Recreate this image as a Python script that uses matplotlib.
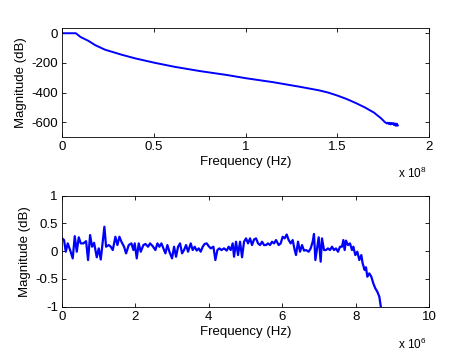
import matplotlib
matplotlib.use("Agg")
import matplotlib.pyplot as plt
import numpy as np

plt.rcParams['font.family'] = ['Liberation Sans', 'DejaVu Sans']
plt.rcParams['mathtext.default'] = 'regular'

# full-band response (frequency in units of 1e8 Hz, magnitude in dB)
wide_f = [0.0, 0.04, 0.075, 0.085, 0.10, 0.143, 0.18, 0.234, 0.325, 0.40, 0.507,
          0.616, 0.75, 0.90, 1.0, 1.15, 1.30, 1.40, 1.45, 1.50, 1.55, 1.60,
          1.65, 1.70, 1.74, 1.76, 1.77, 1.775, 1.78, 1.785, 1.79, 1.795, 1.80,
          1.805, 1.81, 1.815, 1.82, 1.825, 1.83]
wide_db = [0, 0, 0, -10, -25, -51, -80, -111, -145, -170, -200,
           -227, -255, -282, -303, -330, -362, -385, -400, -420, -443, -470,
           -500, -535, -575, -600, -608, -603, -612, -604, -615, -605, -613,
           -606, -620, -608, -625, -610, -622]

# passband detail (frequency in units of 1e6 Hz, magnitude in dB)
pass_f = [0.00, 0.054, 0.10, 0.154, 0.218, 0.29, 0.345, 0.40, 0.454, 0.509,
          0.58, 0.654, 0.708, 0.763, 0.817, 0.872, 0.945, 0.999, 1.054, 1.153,
          1.199, 1.272, 1.326, 1.381, 1.453, 1.508, 1.562, 1.617, 1.689, 1.744,
          1.817, 1.889, 1.944, 1.98, 2.035, 2.089, 2.144, 2.216, 2.271, 2.343,
          2.398, 2.47, 2.543, 2.598, 2.652, 2.707, 2.761, 2.816, 2.87, 2.925,
          2.997, 3.052, 3.106, 3.161, 3.215, 3.27, 3.324, 3.379, 3.433, 3.506,
          3.56, 3.615, 3.669, 3.724, 3.778, 3.833, 3.887, 3.942, 3.996, 4.051,
          4.124, 4.178, 4.233, 4.287, 4.342, 4.414, 4.487, 4.541, 4.596, 4.65,
          4.687, 4.741, 4.796, 4.85, 4.905, 4.959, 5.014, 5.068, 5.123, 5.177,
          5.232, 5.286, 5.341, 5.395, 5.45, 5.504, 5.559, 5.613, 5.668, 5.722,
          5.777, 5.831, 5.904, 5.958, 6.013, 6.067, 6.122, 6.176, 6.231, 6.285,
          6.34, 6.376, 6.431, 6.485, 6.54, 6.594, 6.649, 6.721, 6.776, 6.83,
          6.866, 6.903, 6.957, 6.994, 7.048, 7.084, 7.139, 7.193, 7.248, 7.302,
          7.357, 7.411, 7.466, 7.52, 7.575, 7.629, 7.666, 7.702, 7.738, 7.793,
          7.847, 7.902, 7.938, 7.993, 8.047, 8.102, 8.156, 8.192, 8.247, 8.283,
          8.32, 8.374, 8.429, 8.483, 8.538, 8.592, 8.647, 8.692]
pass_db = [0.23, 0.20, -0.01, 0.14, 0.02, -0.13, 0.27, -0.01, 0.25, 0.14,
           0.14, 0.18, -0.16, 0.29, 0.08, 0.15, -0.11, 0.05, -0.15, 0.44,
           0.08, 0.11, 0.08, 0.02, 0.26, 0.11, 0.26, 0.17, 0.08, -0.04,
           0.11, 0.14, 0.02, 0.14, -0.13, 0.14, -0.01, 0.11, 0.13, 0.08,
           0.14, 0.09, 0.02, 0.14, 0.08, 0.14, 0.05, -0.04, 0.11, -0.01,
           -0.13, 0.08, -0.10, 0.08, 0.14, -0.04, 0.02, 0.11, -0.01, 0.14,
           0.02, 0.08, 0.01, 0.05, -0.01, 0.08, 0.13, 0.14, 0.09, 0.05,
           0.08, -0.16, 0.02, 0.05, 0.02, 0.05, 0.01, 0.08, 0.02, 0.14,
           -0.10, 0.17, -0.07, 0.17, -0.11, 0.17, 0.23, 0.14, 0.23, 0.11,
           0.21, 0.23, 0.14, 0.11, 0.17, 0.11, 0.11, 0.14, 0.11, 0.17,
           0.14, 0.20, 0.11, 0.14, 0.26, 0.23, 0.30, 0.20, 0.14, 0.20,
           0.02, -0.07, 0.17, -0.01, 0.11, 0.01, 0.02, -0.01, 0.05, 0.17,
           0.31, -0.16, 0.08, 0.25, -0.19, 0.23, 0.02, 0.02, 0.05, 0.02,
           0.08, 0.02, 0.05, -0.01, 0.08, 0.08, 0.20, 0.02, 0.19, 0.11,
           0.14, 0.02, 0.08, -0.07, -0.01, -0.16, -0.07, -0.22, -0.34, -0.29,
           -0.46, -0.40, -0.46, -0.58, -0.67, -0.73, -0.82, -1.02]

top_ticks = [0, 0.5, 1, 1.5, 2]
top_labels = ['0', '0.5', '1', '1.5', '2']
top_yticks = [0, -200, -400, -600]
bot_ticks = [0, 2, 4, 6, 8, 10]
bot_yticks = [-1, -0.5, 0, 0.5, 1]

fig = plt.figure(figsize=(4.74, 3.55), dpi=100)
ax1 = fig.add_axes([0.131, 0.614, 0.774, 0.307])
ax2 = fig.add_axes([0.131, 0.136, 0.774, 0.313])

fs = 9.5
blue = (0, 0, 1)

ax1.plot(np.array(wide_f) * 1e8, wide_db, color=blue, lw=1.4)
ax1.set_xlim(0, 2e8)
ax1.set_ylim(-700, 35)
ax1.set_xticks(np.array(top_ticks) * 1e8)
ax1.set_xticklabels(top_labels)
ax1.set_yticks(top_yticks)
ax1.set_yticklabels([str(v) for v in top_yticks])
ax1.set_xlabel('Frequency (Hz)', fontsize=fs, labelpad=2)
ax1.set_ylabel('Magnitude (dB)', fontsize=fs, labelpad=3)
fig.text(0.84, 0.498, 'x 10$^{8}$', fontsize=fs - 1)

ax2.plot(np.array(pass_f) * 1e6, pass_db, color=blue, lw=1.6)
ax2.set_xlim(0, 1e7)
ax2.set_ylim(-1, 1)
ax2.set_xticks(np.array(bot_ticks) * 1e6)
ax2.set_xticklabels([str(v) for v in bot_ticks])
ax2.set_yticks(bot_yticks)
ax2.set_yticklabels(['-1', '-0.5', '0', '0.5', '1'])
ax2.set_xlabel('Frequency (Hz)', fontsize=fs, labelpad=2)
ax2.set_ylabel('Magnitude (dB)', fontsize=fs, labelpad=3)
fig.text(0.84, 0.018, 'x 10$^{6}$', fontsize=fs - 1)

for ax in (ax1, ax2):
    ax.tick_params(direction='in', length=3, width=0.6, top=True, right=True,
                   labelsize=fs, pad=3)
    for s in ax.spines.values():
        s.set_linewidth(0.6)

fig.savefig('out.png', dpi=100)
